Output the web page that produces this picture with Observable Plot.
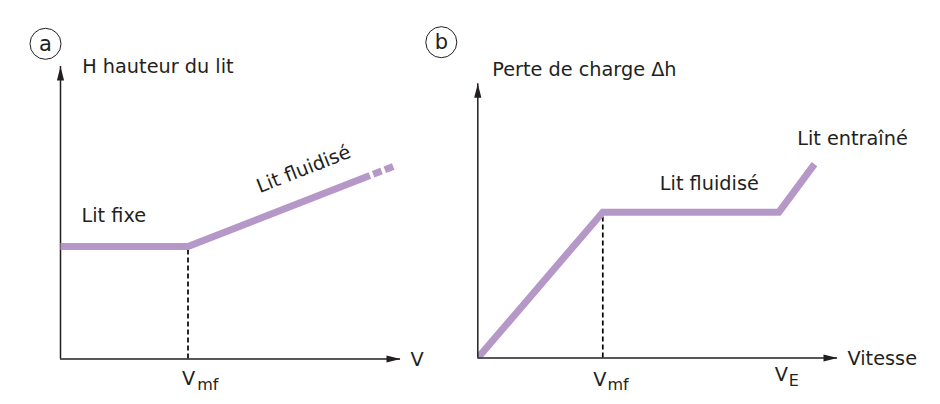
<!DOCTYPE html>
<html><head><meta charset="utf-8">
<script src="https://cdn.jsdelivr.net/npm/d3@7"></script>
<script src="https://cdn.jsdelivr.net/npm/@observablehq/plot@0.6"></script>
<style>
body{margin:0;background:#fff;}
#wrap{position:relative;width:940px;height:404px;}
#pa,#pb{position:absolute;top:0;}
#pa{left:0}
#pb{left:430px}
</style></head><body><div id="wrap"><div id="pa"></div><div id="pb"></div></div>
<script>
// ---- data (schematic units, 0..10 on each axis) ----
const axisMax = 10;
// panel a : bed height vs velocity
const aVelocity = [0, 3.75, 9.1];
const aHeight = [3.85, 3.85, 6.27];
const aExtVelocity = [9.1, 9.85];
const aExtHeight = [6.27, 6.61];
const aVmf = 3.75;
// panel b : pressure drop vs velocity
const bVelocity = [0, 3.475, 8.37, 9.36];
const bDrop = [0, 5.32, 5.32, 7.07];
const bVmf = 3.475;
const bVE = 8.37;
// texts
const aTitle = "H hauteur du lit", aXLabel = "V", aFixed = "Lit fixe", aFluid = "Lit fluidisé";
const bTitle = "Perte de charge \u0394h", bXLabel = "Vitesse", bFluid = "Lit fluidisé", bEntrained = "Lit entraîné";

const purple = "#b598c8", ink = "#231f20";
const FS = 19.3;
const arrowHead = {draw(ctx) { ctx.moveTo(0, 0); ctx.lineTo(3.6, 14); ctx.lineTo(-3.6, 14); ctx.closePath(); }};
const pts = (xs, ys) => xs.map((x, i) => ({x, y: ys[i]}));
const lbl = (x, y, t, o = {}) => Plot.text([{x, y, t}], {x: "x", y: "y", text: "t", fill: ink, fontSize: FS, textAnchor: "start", lineAnchor: "bottom", ...o});
const axes = () => [
  Plot.ruleX([0], {y1: 0, y2: axisMax, stroke: ink, strokeWidth: 1.5}),
  Plot.ruleY([0], {x1: 0, x2: axisMax, stroke: ink, strokeWidth: 1.5}),
  Plot.dot([{x: 0, y: axisMax}], {x: "x", y: "y", symbol: arrowHead, fill: ink, stroke: "none"}),
  Plot.dot([{x: axisMax, y: 0}], {x: "x", y: "y", symbol: arrowHead, fill: ink, stroke: "none", rotate: 90})
];
const badge = (letter, dx, dy) => [
  Plot.dot([{x: 0, y: axisMax}], {x: "x", y: "y", r: 15.5, fill: "none", stroke: ink, strokeWidth: 1, dx, dy}),
  Plot.text([{x: 0, y: axisMax, t: letter}], {x: "x", y: "y", text: "t", fill: ink, fontSize: 21, textAnchor: "middle", lineAnchor: "middle", dx, dy})
];
const common = {height: 404, style: {fontFamily: "DejaVu Sans", fontSize: "19px", overflow: "visible", background: "transparent"}};

// ---- panel a ----
const pa = Plot.plot({
  ...common, width: 430, marginLeft: 60, marginRight: 30, marginTop: 66, marginBottom: 45.5,
  x: {domain: [0, axisMax], axis: null}, y: {domain: [0, axisMax], axis: null},
  marks: [
    Plot.ruleX([aVmf], {y1: 0, y2: aHeight[1], stroke: "#000", strokeWidth: 1.7, strokeDasharray: "5,3"}),
    ...axes(),
    Plot.line(pts(aVelocity, aHeight), {x: "x", y: "y", stroke: purple, strokeWidth: 7, strokeLinecap: "butt", strokeLinejoin: "miter", strokeMiterlimit: 10}),
    Plot.line(pts(aExtVelocity, aExtHeight), {x: "x", y: "y", stroke: purple, strokeWidth: 7, strokeLinecap: "butt", strokeDasharray: "0 3.5 9 3.5 9 60"}),
    ...badge("a", -15, -22.7),
    lbl(0, axisMax, aTitle, {dx: 21.7, dy: 6.7}),
    lbl(axisMax, 0, aXLabel, {dx: 10, dy: 6.5}),
    lbl(0, aHeight[0], aFixed, {dx: 21, dy: -24.2}),
    lbl(aVmf, aHeight[1], aFluid, {dx: 71.8, dy: -53.2, rotate: -21.5}),
    lbl(aVmf, 0, "V", {textAnchor: "middle", dx: 0.7, dy: 25.8}),
    lbl(aVmf, 0, "mf", {fontSize: 16, dx: 9.2, dy: 30.8})
  ]
});
document.getElementById("pa").append(pa);

// ---- panel b ----
const pb = Plot.plot({
  ...common, width: 510, marginLeft: 47.3, marginRight: 103, marginTop: 83.3, marginBottom: 46.5,
  x: {domain: [0, axisMax], axis: null}, y: {domain: [0, axisMax], axis: null},
  marks: [
    Plot.ruleX([bVmf], {y1: 0, y2: bDrop[1], stroke: "#000", strokeWidth: 1.7, strokeDasharray: "5,3"}),
    Plot.line(pts(bVelocity, bDrop), {x: "x", y: "y", stroke: purple, strokeWidth: 7, strokeLinecap: "butt", strokeLinejoin: "miter", strokeMiterlimit: 10, clip: true}),
    ...axes(),
    ...badge("b", -36.5, -41.6),
    lbl(0, axisMax, bTitle, {dx: 14.4, dy: -8.3}),
    lbl(axisMax, 0, bXLabel, {dx: 10, dy: 6.8}),
    lbl(bVmf, bDrop[1], bFluid, {dx: 57, dy: -22.3}),
    lbl(bVelocity[3], bDrop[3], bEntrained, {dx: -17.3, dy: -19.6}),
    lbl(bVmf, 0, "V", {textAnchor: "middle", dx: -3, dy: 27.5}),
    lbl(bVmf, 0, "mf", {fontSize: 16, dx: 4.7, dy: 31.5}),
    lbl(bVE, 0, "V", {textAnchor: "middle", dx: 2.5, dy: 23.2}),
    lbl(bVE, 0, "E", {fontSize: 16, dx: 10, dy: 27.5})
  ]
});
document.getElementById("pb").append(pb);
</script></body></html>
